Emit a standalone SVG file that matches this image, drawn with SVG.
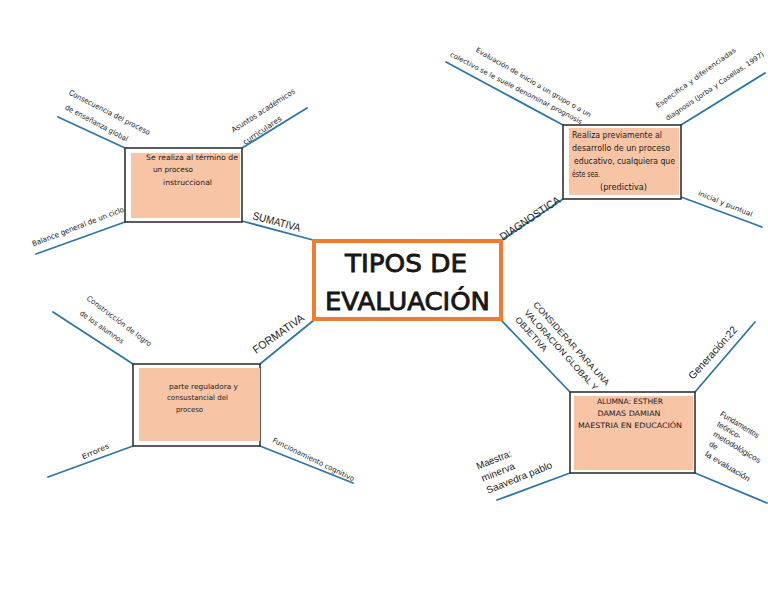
<svg xmlns="http://www.w3.org/2000/svg" width="768" height="594" viewBox="0 0 768 594">
<style>
.ln{stroke:#2e75a8;stroke-width:1.8;fill:none;stroke-linecap:round}
.box{fill:#ffffff;stroke:#333333;stroke-width:1.6}
.fill{fill:#f8c4a6}
.c{font-family:"DejaVu Sans","Liberation Sans",sans-serif;fill:#1a1a1a}
.s{font-family:"Liberation Sans",Arial,sans-serif;fill:#1a1a1a}
</style>
<rect width="768" height="594" fill="#ffffff"/>
<g id="connectors">
  <line class="ln" x1="242" y1="221" x2="313" y2="240"/>
  <line class="ln" x1="563" y1="199" x2="502" y2="240"/>
  <line class="ln" x1="260" y1="364" x2="314" y2="320"/>
  <line class="ln" x1="570" y1="392" x2="501" y2="320"/>
  <line class="ln" x1="125" y1="148" x2="58" y2="117"/>
  <line class="ln" x1="242" y1="148" x2="307" y2="108"/>
  <line class="ln" x1="125" y1="222" x2="36" y2="254"/>
  <line class="ln" x1="563" y1="125" x2="446" y2="62"/>
  <line class="ln" x1="681" y1="125" x2="765" y2="73"/>
  <line class="ln" x1="681" y1="197" x2="762" y2="227"/>
  <line class="ln" x1="133" y1="364" x2="53" y2="312"/>
  <line class="ln" x1="133" y1="446" x2="48" y2="477"/>
  <line class="ln" x1="260" y1="446" x2="353" y2="483"/>
  <line class="ln" x1="695" y1="392" x2="755" y2="322"/>
  <line class="ln" x1="570" y1="473" x2="497" y2="500"/>
  <line class="ln" x1="695" y1="473" x2="767" y2="503"/>
</g>
<g id="central">
  <rect x="314" y="241" width="187" height="78" fill="#ffffff" stroke="#ed7d31" stroke-width="4"/>
  <g class="c" font-size="24" stroke="#111111" stroke-width="0.8">
    <text x="345" y="272" textLength="122" lengthAdjust="spacingAndGlyphs">TIPOS DE</text>
    <text x="325" y="310" textLength="165" lengthAdjust="spacingAndGlyphs">EVALUACIÓN</text>
  </g>
</g>
<g id="sumativa">
  <rect class="box" x="125" y="148" width="117" height="74"/>
  <rect class="fill" x="131" y="153" width="109" height="65"/>
  <g class="c" font-size="7.5">
    <text x="146" y="160" textLength="92" lengthAdjust="spacingAndGlyphs">Se realiza al término de</text>
    <text x="153" y="172" textLength="40" lengthAdjust="spacingAndGlyphs">un proceso</text>
    <text x="163" y="185" textLength="49" lengthAdjust="spacingAndGlyphs">instruccional</text>
    <text transform="translate(69,93) rotate(27)" y="1.5" textLength="90" lengthAdjust="spacingAndGlyphs">Consecuencia del proceso</text>
    <text transform="translate(65,108) rotate(28)" y="1" textLength="70" lengthAdjust="spacingAndGlyphs">de enseñanza global</text>
    <text transform="translate(233,132) rotate(-33)" y="1" textLength="74" lengthAdjust="spacingAndGlyphs">Asuntos académicos</text>
    <text transform="translate(245,145) rotate(-34)" y="0" textLength="45" lengthAdjust="spacingAndGlyphs">curriculares</text>
    <text transform="translate(33,246) rotate(-21)" y="0.5" textLength="98" lengthAdjust="spacingAndGlyphs">Balance general de un ciclo</text>
  </g>
  <text class="s" transform="translate(252,219) rotate(15)" font-size="11" textLength="49" lengthAdjust="spacingAndGlyphs">SUMATIVA</text>
</g>
<g id="diagnostica">
  <rect class="box" x="563" y="125" width="118" height="74"/>
  <rect class="fill" x="569" y="128" width="110" height="67"/>
  <g class="c" font-size="9">
    <text x="572" y="138" textLength="90" lengthAdjust="spacingAndGlyphs">Realiza previamente al</text>
    <text x="572" y="151" textLength="98" lengthAdjust="spacingAndGlyphs">desarrollo de un proceso</text>
    <text x="574" y="164" textLength="101" lengthAdjust="spacingAndGlyphs">educativo, cualquiera que</text>
    <text x="572" y="177" textLength="28" lengthAdjust="spacingAndGlyphs">éste sea.</text>
    <text x="600" y="190" textLength="47" lengthAdjust="spacingAndGlyphs">(predictiva)</text>
  </g>
  <g class="c" font-size="6.8">
    <text transform="translate(476,50) rotate(30)" y="1.5" textLength="132" lengthAdjust="spacingAndGlyphs">Evaluación de inicio a un grupo o a un</text>
    <text transform="translate(450,55) rotate(27.5)" y="1" textLength="148" lengthAdjust="spacingAndGlyphs">colectivo se le suele denominar prognosis</text>
    <text transform="translate(657,107) rotate(-36)" y="1.5" textLength="97" lengthAdjust="spacingAndGlyphs">Específica y diferenciadas</text>
    <text transform="translate(667,120) rotate(-34)" y="1" textLength="117" lengthAdjust="spacingAndGlyphs">diagnosis (Jorba y Casellas, 1997)</text>
    <text transform="translate(698,194) rotate(22)" y="1" textLength="58" lengthAdjust="spacingAndGlyphs">inicial y puntual</text>
  </g>
  <text class="s" transform="translate(503,241) rotate(-34)" font-size="11" textLength="70" lengthAdjust="spacingAndGlyphs">DIAGNOSTICA</text>
</g>
<g id="formativa">
  <rect class="box" x="133" y="364" width="127" height="82"/>
  <rect class="fill" x="139" y="368" width="121" height="73"/>
  <g class="c" font-size="7.2">
    <text x="169" y="389" textLength="69" lengthAdjust="spacingAndGlyphs">parte reguladora y</text>
    <text x="167" y="400" textLength="61" lengthAdjust="spacingAndGlyphs">consustancial del</text>
    <text x="176" y="412" textLength="27" lengthAdjust="spacingAndGlyphs">proceso</text>
    <text transform="translate(87,298) rotate(37)" y="1.5" textLength="79" lengthAdjust="spacingAndGlyphs">Construcción de logro</text>
    <text transform="translate(80,313) rotate(35)" y="1.5" textLength="52" lengthAdjust="spacingAndGlyphs">de los alumnos</text>
    <text transform="translate(83,459) rotate(-24)" y="0.5" textLength="29" lengthAdjust="spacingAndGlyphs">Errores</text>
    <text transform="translate(272,442) rotate(26)" y="0" textLength="90" lengthAdjust="spacingAndGlyphs">Funcionamiento cognitivo</text>
  </g>
  <text class="s" transform="translate(256,354) rotate(-35)" font-size="11" textLength="60" lengthAdjust="spacingAndGlyphs">FORMATIVA</text>
</g>
<g id="alumna">
  <rect class="box" x="570" y="392" width="125" height="81"/>
  <rect class="fill" x="574" y="396" width="119" height="74"/>
  <g class="c" font-size="7.5" text-anchor="middle">
    <text x="630" y="404" textLength="66" lengthAdjust="spacingAndGlyphs">ALUMNA: ESTHER</text>
    <text x="629" y="416" textLength="63" lengthAdjust="spacingAndGlyphs">DAMAS DAMIAN</text>
    <text x="630" y="428" textLength="104" lengthAdjust="spacingAndGlyphs">MAESTRIA EN EDUCACIÓN</text>
  </g>
  <g class="s" font-size="8.5">
    <text transform="translate(535,303) rotate(48)" y="3" textLength="109" lengthAdjust="spacingAndGlyphs">CONSIDERAR  PARA UNA</text>
    <text transform="translate(526,311) rotate(48)" y="3" textLength="105" lengthAdjust="spacingAndGlyphs">VALORACION  GLOBAL  Y</text>
    <text transform="translate(517,318) rotate(48)" y="3" textLength="43" lengthAdjust="spacingAndGlyphs">OBJETIVA</text>
  </g>
  <text class="s" transform="translate(693,380) rotate(-48)" font-size="10.5" textLength="67" lengthAdjust="spacingAndGlyphs">Generación:22</text>
  <g class="s" font-size="8">
    <text transform="translate(721,413) rotate(31)" y="3" textLength="44" lengthAdjust="spacingAndGlyphs">Fundamentos</text>
    <text transform="translate(718,423) rotate(31)" y="3">teórico-</text>
    <text transform="translate(714,433) rotate(31)" y="3" textLength="54" lengthAdjust="spacingAndGlyphs">metodológicos</text>
    <text transform="translate(710,443) rotate(31)" y="3">de</text>
    <text transform="translate(706,453) rotate(31)" y="3" textLength="51" lengthAdjust="spacingAndGlyphs">la evaluación</text>
  </g>
  <g class="s" font-size="10">
    <text transform="translate(477,467) rotate(-22)" y="3" textLength="37" lengthAdjust="spacingAndGlyphs">Maestra:</text>
    <text transform="translate(482,479) rotate(-22)" y="3" textLength="35" lengthAdjust="spacingAndGlyphs">minerva</text>
    <text transform="translate(487,491) rotate(-22)" y="3" textLength="70" lengthAdjust="spacingAndGlyphs">Saavedra pablo</text>
  </g>
</g>
</svg>
